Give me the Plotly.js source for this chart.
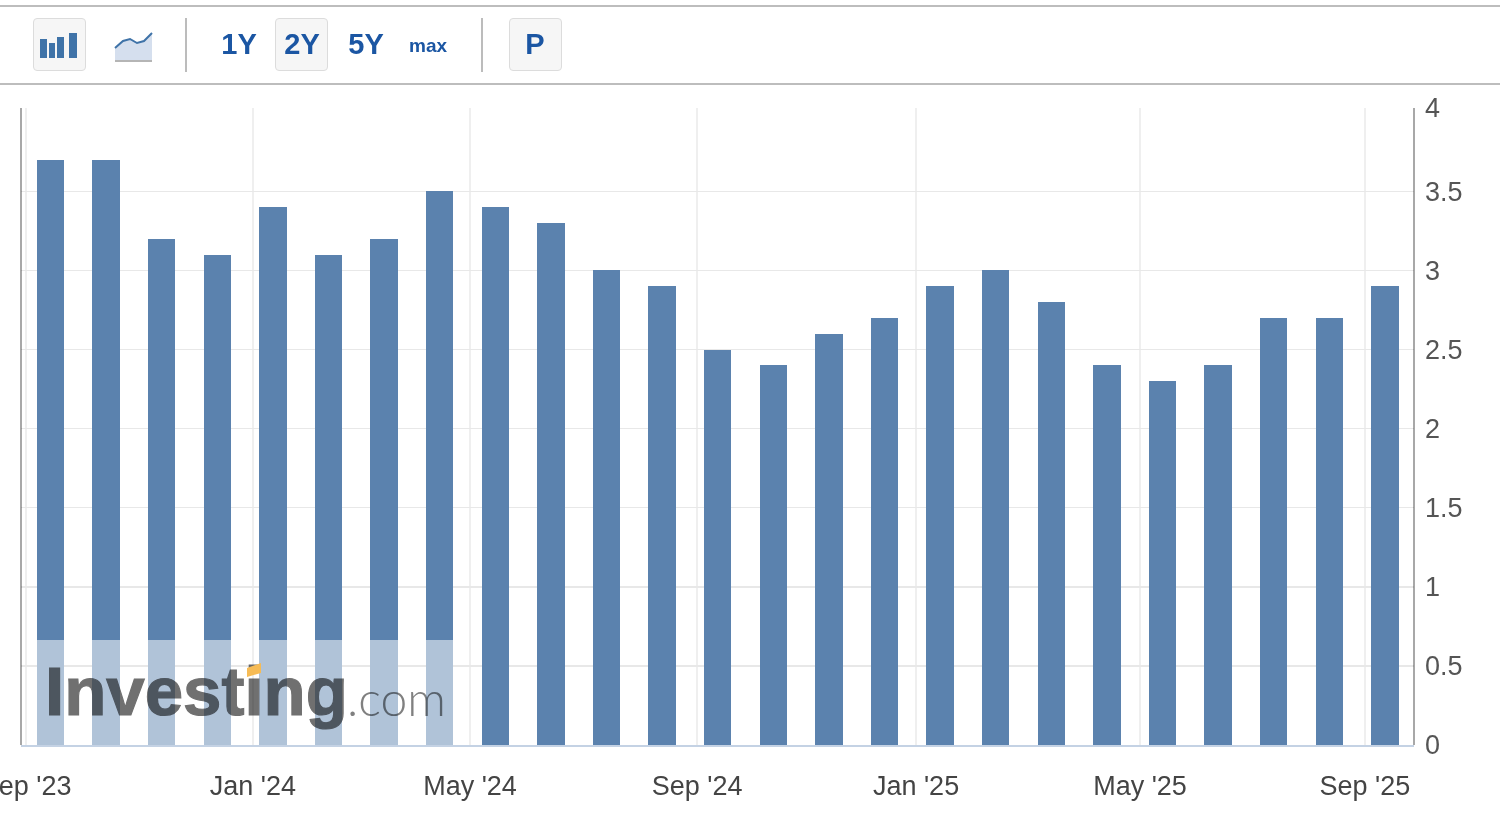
<!DOCTYPE html>
<html><head><meta charset="utf-8">
<script src="https://cdn.plot.ly/plotly-3.0.1.min.js"></script>
<style>
html,body{margin:0;padding:0;background:#fff;overflow:hidden}
#wrap{position:relative;width:1500px;height:837px;overflow:hidden;filter:blur(0.6px);font-family:"Liberation Sans",Arial,sans-serif}
#chart{position:absolute;left:0;top:0;width:1500px;height:837px}
.rule{position:absolute;left:0;width:1500px;height:2px;background:#bdbdbd}
.btn{position:absolute;top:18px;width:51px;height:51px;border:1.5px solid #dcdcdc;border-radius:4px;background:#f6f6f6}
.sep{position:absolute;top:18px;width:2px;height:54px;background:#bcbcbc}
.lbl{position:absolute;color:#1b56a3;font-weight:bold;font-size:29px;line-height:30px;transform:translateX(-50%);top:29px}
#chart .main-svg:nth-of-type(2){mix-blend-mode:multiply}
#chart .annotation[data-index="0"] text{stroke:#707070;stroke-width:1.2px}
</style></head><body>
<div id="wrap">
  <div id="chart"></div>
  <svg style="position:absolute;left:0;top:0" width="300" height="720">
    <polygon points="247,677 247,668 261,663 261,673" fill="#f6bb55"/>
  </svg>
  <div class="rule" style="top:5px"></div>
  <div class="rule" style="top:83px"></div>
  <div class="btn" style="left:33px"></div>
  <svg style="position:absolute;left:33px;top:18px" width="54" height="54">
    <rect x="7" y="21" width="7" height="19" fill="#3f73a8"/><rect x="16" y="25" width="6" height="15" fill="#3f73a8"/>
    <rect x="24" y="19" width="7" height="21" fill="#3f73a8"/><rect x="36" y="15" width="8" height="25" fill="#3f73a8"/>
  </svg>
  <svg style="position:absolute;left:110px;top:28px" width="46" height="36">
    <path d="M5 20 L13 13 L20 11 L27 15 L34 13 L42 5 L42 32 L5 32Z" fill="#d5dfee"/>
    <path d="M5 20 L13 13 L20 11 L27 15 L34 13 L42 5" fill="none" stroke="#3f73a8" stroke-width="2"/>
    <rect x="5" y="32" width="37" height="2" fill="#b5b5b5"/>
  </svg>
  <div class="sep" style="left:185px"></div>
  <div class="btn" style="left:275px"></div>
  <div class="lbl" style="left:239px">1Y</div>
  <div class="lbl" style="left:302px">2Y</div>
  <div class="lbl" style="left:366px">5Y</div>
  <div class="lbl" style="left:428px;font-size:19px;top:31px">max</div>
  <div class="sep" style="left:481px"></div>
  <div class="btn" style="left:509px"></div>
  <div class="lbl" style="left:535px">P</div>
</div>
<script>
const months = ["Sep '23","Oct '23","Nov '23","Dec '23","Jan '24","Feb '24","Mar '24","Apr '24","May '24","Jun '24","Jul '24","Aug '24","Sep '24","Oct '24","Nov '24","Dec '24","Jan '25","Feb '25","Mar '25","Apr '25","May '25","Jun '25","Jul '25","Aug '25","Sep '25"];
const values = [3.7,3.7,3.2,3.1,3.4,3.1,3.2,3.5,3.4,3.3,3.0,2.9,2.5,2.4,2.6,2.7,2.9,3.0,2.8,2.4,2.3,2.4,2.7,2.7,2.9];
const watermarkBand = [0.665,0.665,0.665,0.665,0.665,0.665,0.665,0.665];
const tickLabels = ["Sep '23","Jan '24","May '24","Sep '24","Jan '25","May '25","Sep '25"];
const tickSlots = [-0.44,3.64,7.545,11.63,15.567,19.595,23.64];
const yTop = 4.0265;
const yTicks = [0,0.5,1,1.5,2,2.5,3,3.5,yTop];
const yLabels = ['0','0.5','1','1.5','2','2.5','3','3.5','4'];

const trace = {type:'bar', x:months.map((m,i)=>i), y:values, width:0.495,
  marker:{color:'#5b82ae',line:{width:0}}, hoverinfo:'y'};
const band = {type:'bar', x:watermarkBand.map((v,i)=>i), y:watermarkBand, width:0.495,
  marker:{color:'rgba(255,255,255,0.52)',line:{width:0}}, hoverinfo:'skip'};
const layout = {
  width:1500, height:837, margin:{l:21,r:86,t:108,b:92},
  paper_bgcolor:'rgba(0,0,0,0)', plot_bgcolor:'#fff', showlegend:false, barmode:'overlay',
  font:{family:'"Liberation Sans",Arial,sans-serif'},
  xaxis:{type:'linear',range:[-0.5306,24.523],tickmode:'array',tickvals:tickSlots,ticktext:tickLabels,
    showgrid:true,gridcolor:'#efefef',gridwidth:1.5,zeroline:false,showline:true,linecolor:'#c4d2e4',linewidth:2,
    ticks:'',tickangle:0,ticklabelstandoff:16,ticklabeloverflow:'allow',tickfont:{size:27,color:'#444'},automargin:false},
  yaxis:{range:[0,yTop],side:'right',tickmode:'array',tickvals:yTicks,ticktext:yLabels,
    showgrid:true,gridcolor:'#e8e8e8',gridwidth:1.5,zeroline:false,showline:false,
    ticks:'',ticklabelstandoff:10,ticklabeloverflow:'allow',tickfont:{size:27,color:'#555'},automargin:false},
  shapes:[
    {type:'line',xref:'paper',yref:'paper',x0:0,x1:0,y0:0,y1:1,line:{color:'#a8a8a8',width:2},layer:'above'},
    {type:'line',xref:'paper',yref:'paper',x0:1,x1:1,y0:0,y1:1,line:{color:'#a8a8a8',width:2},layer:'above'}
  ],
  annotations:[
    {xref:'paper',yref:'paper',x:0.0175,y:0.024,xanchor:'left',yanchor:'bottom',showarrow:false,align:'left',
      text:'<b>Investing</b>',font:{size:69,color:'#707070',family:'"Liberation Sans"'},borderpad:0,borderwidth:0},
    {xref:'paper',yref:'paper',x:0.2335,y:0.0275,xanchor:'left',yanchor:'bottom',showarrow:false,align:'left',
      text:'.com',font:{size:48,color:'#808080',family:'Lato',weight:300},borderpad:0}
  ],
  bargap:0
};
Plotly.newPlot('chart',[trace,band],layout,{displayModeBar:false,staticPlot:true});
</script>
</body></html>
